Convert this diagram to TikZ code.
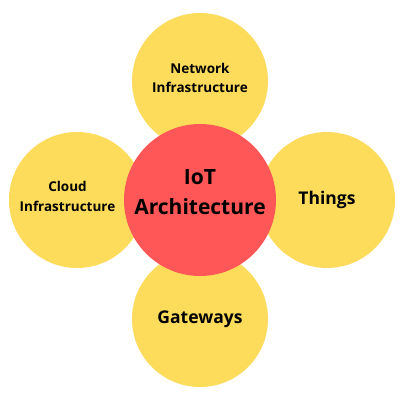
\documentclass[tikz,border=0pt]{standalone}
\usepackage{fontspec}
\setmainfont{Open Sans}
\usepackage{xcolor}
\usepackage{tikz}
\definecolor{petal}{HTML}{FDDB5B}
\definecolor{core}{HTML}{FF5757}

\begin{document}
\begin{tikzpicture}[x=1pt,y=1pt,
    petal/.style={circle,fill=petal,minimum size=136pt,inner sep=0pt},
    core/.style={circle,fill=core,minimum size=152pt,inner sep=0pt},
    caption/.style={align=center,inner sep=0pt,text=black}]
    \useasboundingbox (0,0) rectangle (400,400);

    % Outer parts
    \node [petal] (network) at (200,319) {};
    \node [petal] (cloud) at (77,200) {};
    \node [petal] (things) at (327,200) {};
    \node [petal] (gateways) at (200,81) {};

    \node [caption,font=\bfseries\fontsize{13.5}{19}\selectfont] (networktext) at ([shift={(0,3)}]network.center) {Network\\Infrastructure};
    \node [caption,font=\bfseries\fontsize{13.5}{20}\selectfont] (cloudtext) at ([shift={(-9.5,4)}]cloud.center) {Cloud\\Infrastructure};
    \node [caption,font=\bfseries\fontsize{17.5}{20}\selectfont] (thingstext) at (things.center) {Things};
    \node [caption,font=\bfseries\fontsize{17.5}{20}\selectfont] (gatewaystext) at (gateways.center) {Gateways};

    % Centre
    \node [core] (iot) at (200,200) {};
    \node [caption,font=\bfseries\fontsize{21}{30}\selectfont] (iottext) at ([shift={(0,8)}]iot.center) {IoT\\Architecture};
  \end{tikzpicture}
\end{document}
